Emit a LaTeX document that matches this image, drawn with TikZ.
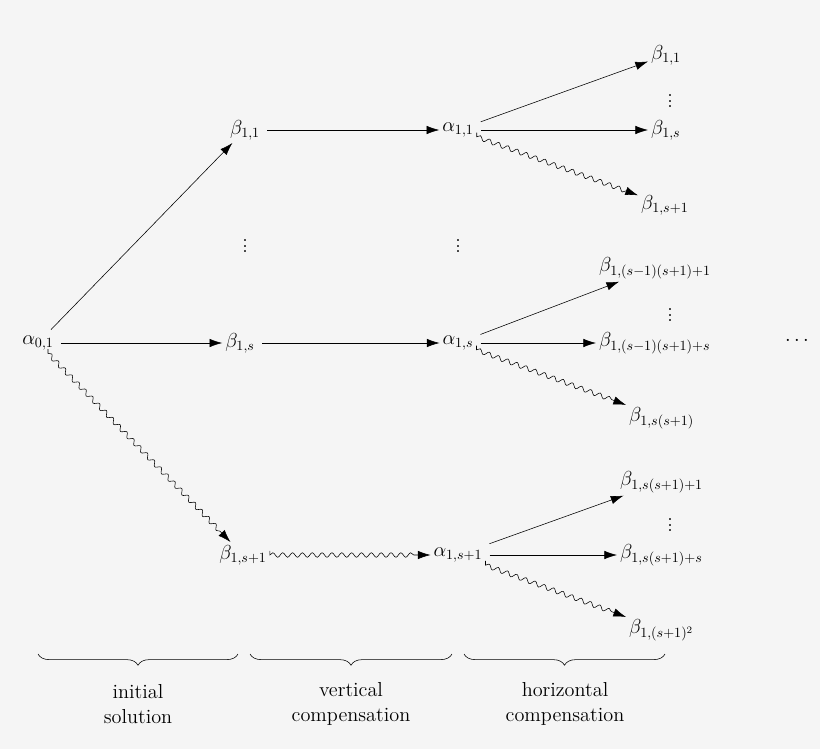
\documentclass[tikz,border=0pt]{standalone}
\usetikzlibrary{decorations.pathmorphing,decorations.pathreplacing,arrows.meta}
\begin{document}
\begin{tikzpicture}[x=0.025cm,y=-0.025cm,font=\Large,
  every node/.style={inner sep=2pt},
  dts/.style={inner sep=0pt,font=\normalsize},
  arr/.style={-{Latex[length=9pt,width=6pt]},thin,shorten <=3pt},
  wav/.style={-{Latex[length=9pt,width=6pt]},thin,shorten <=3pt,decorate,decoration={snake,amplitude=1.6pt,segment length=7pt,post length=9pt}},
  brc/.style={decorate,decoration={brace,mirror,amplitude=8pt},thin},
  lbl/.style={align=center,font=\Large}]
\fill[gray!8] (0,0) rectangle (820,749);
\node (a0) at (38,343) {$\alpha_{0,1}$};
\node (b1) at (245,130) {$\beta_{1,1}$};
\node (bs) at (240,343) {$\beta_{1,s}$};
\node (bs1) at (243,555) {$\beta_{1,s+1}$};
\node (a1) at (458,130) {$\alpha_{1,1}$};
\node (as) at (458,343) {$\alpha_{1,s}$};
\node (as1) at (458,555) {$\alpha_{1,s+1}$};
\node[dts] (v1) at (245,242) {\Large$\vdots$};
\node[dts] (v2) at (458,242) {\Large$\vdots$};
\node[anchor=west] (r11) at (648,55) {$\beta_{1,1}$};
\node[dts] (rv1) at (670,97) {\Large$\vdots$};
\node[anchor=west] (r12) at (648,130) {$\beta_{1,s}$};
\node[anchor=west] (r13) at (638,205) {$\beta_{1,s+1}$};
\node[anchor=west] (r21) at (596,268) {$\beta_{1,(s-1)(s+1)+1}$};
\node[dts] (rv2) at (670,311) {\Large$\vdots$};
\node[anchor=west] (r22) at (596,343) {$\beta_{1,(s-1)(s+1)+s}$};
\node[anchor=west] (r23) at (626,418) {$\beta_{1,s(s+1)}$};
\node[anchor=west] (r31) at (617,482) {$\beta_{1,s(s+1)+1}$};
\node[dts] (rv3) at (670,521) {\Large$\vdots$};
\node[anchor=west] (r32) at (617,555) {$\beta_{1,s(s+1)+s}$};
\node[anchor=west] (r33) at (626,630) {$\beta_{1,(s+1)^2}$};
\node (cd) at (797,341) {$\cdots$};
\draw[arr] (a0) -- (b1);
\draw[arr] (a0) -- (bs);
\draw[wav] (a0) -- (bs1);
\draw[arr] (b1) -- (a1);
\draw[arr] (bs) -- (as);
\draw[wav] (bs1) -- (as1);
\draw[arr] (a1) -- (r11);
\draw[arr] (a1) -- (r12);
\draw[wav] (a1) -- (r13);
\draw[arr] (as) -- (r21);
\draw[arr] (as) -- (r22);
\draw[wav] (as) -- (r23);
\draw[arr] (as1) -- (r31);
\draw[arr] (as1) -- (r32);
\draw[wav] (as1) -- (r33);
\coordinate (p1) at (38,654); \coordinate (p2) at (238,654);
\coordinate (p3) at (250,654); \coordinate (p4) at (452,654);
\coordinate (p5) at (464,654); \coordinate (p6) at (665,654);
\draw[brc] (p1) -- (p2);
\draw[brc] (p3) -- (p4);
\draw[brc] (p5) -- (p6);
\node[lbl] (l1) at (138,704) {initial\\solution};
\node[lbl] (l2) at (351,704) {vertical\\compensation};
\node[lbl] (l3) at (565,704) {horizontal\\compensation};
\end{tikzpicture}
\end{document}
